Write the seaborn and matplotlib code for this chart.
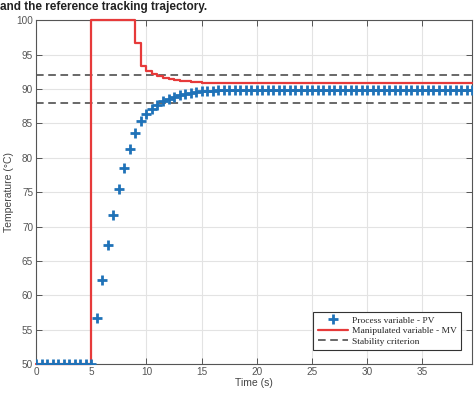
import numpy as np
import pandas as pd
import matplotlib
matplotlib.use("Agg")
import matplotlib.pyplot as plt
import seaborn as sns

# sampled every 0.5 s
tempo = np.arange(0, 40, 0.5)

pv = ([50.0] * 11 +
      [56.7, 62.3, 67.3, 71.7, 75.4, 78.5, 81.3, 83.6, 85.3, 86.3,
       87.1, 87.7, 88.2, 88.6, 88.9, 89.1, 89.3, 89.45, 89.55, 89.65,
       89.7, 89.75, 89.8, 89.82, 89.85, 89.87, 89.88, 89.9] +
      [89.9] * 41)

mv = ([50.0] * 10 +
      [100.0] * 8 +
      [96.7, 93.4, 92.6, 92.2, 91.9, 91.6, 91.4, 91.3, 91.2, 91.1,
       91.0, 90.95, 90.9, 90.88, 90.85, 90.83, 90.82, 90.81] +
      [90.8] * 44)

limites = [92.0, 88.0]

AZUL = "#1f72b8"
VERMELHO = "#e63a3a"
CINZA = "#404040"


def main():
    sns.set_theme(style="white")
    plt.rcParams['font.family'] = ['Liberation Sans', 'DejaVu Sans']

    df = pd.DataFrame({'t': tempo, 'PV': pv, 'MV': mv})

    fig = plt.figure(figsize=(4.74, 3.95), dpi=100)
    ax = fig.add_axes([0.076, 0.078, 0.92, 0.871])

    sns.lineplot(data=df, x='t', y='MV', ax=ax, color=VERMELHO, linewidth=1.6,
                 drawstyle='steps-post', label='Manipulated variable - MV',
                 zorder=3, clip_on=False)
    ax.plot(df['t'], df['PV'], linestyle='none', marker='+', markersize=7,
            markeredgewidth=2.0, color=AZUL, label='Process variable - PV', zorder=4)
    for i, lim in enumerate(limites):
        ax.axhline(lim, color=CINZA, linestyle=(0, (5, 3)), linewidth=1.1,
                   label='Stability criterion' if i == 0 else None, zorder=2)

    ax.set_xlim(0, 39.5)
    ax.set_ylim(50, 100)
    ax.set_xticks(range(0, 40, 5))
    ax.set_yticks(range(50, 101, 5))
    ax.grid(True, color='#e3e3e3', linewidth=0.8)
    ax.tick_params(direction='in', length=4, width=0.7, colors='#555555',
                   labelsize=7.2, top=True, right=True, bottom=True, left=True,
                   labelcolor='#555555', pad=2)
    for s in ax.spines.values():
        s.set_color('#555555')
        s.set_linewidth(0.8)

    ax.set_xlabel('Time (s)', fontsize=7.5, color='#444444', labelpad=1)
    ax.set_ylabel('Temperature (°C)', fontsize=7.5, color='#444444', labelpad=2)

    handles, labels = ax.get_legend_handles_labels()
    ordem = [labels.index(l) for l in ['Process variable - PV',
                                       'Manipulated variable - MV',
                                       'Stability criterion']]
    leg = ax.legend([handles[i] for i in ordem], [labels[i] for i in ordem],
                    loc='lower right', bbox_to_anchor=(0.985, 0.028),
                    prop={'family': 'Liberation Serif', 'size': 6.8},
                    frameon=True, fancybox=False, edgecolor='#333333',
                    framealpha=1, borderpad=0.45, labelspacing=0.2,
                    handlelength=3.2, handletextpad=0.4)
    leg.get_frame().set_linewidth(0.8)

    fig.text(0.0, 0.998, 'and the reference tracking trajectory.', fontsize=8.5,
             color='#222222', va='top', ha='left', fontweight='bold')

    fig.savefig('out.png', dpi=100)
    plt.close(fig)


if __name__ == "__main__":
    main()
